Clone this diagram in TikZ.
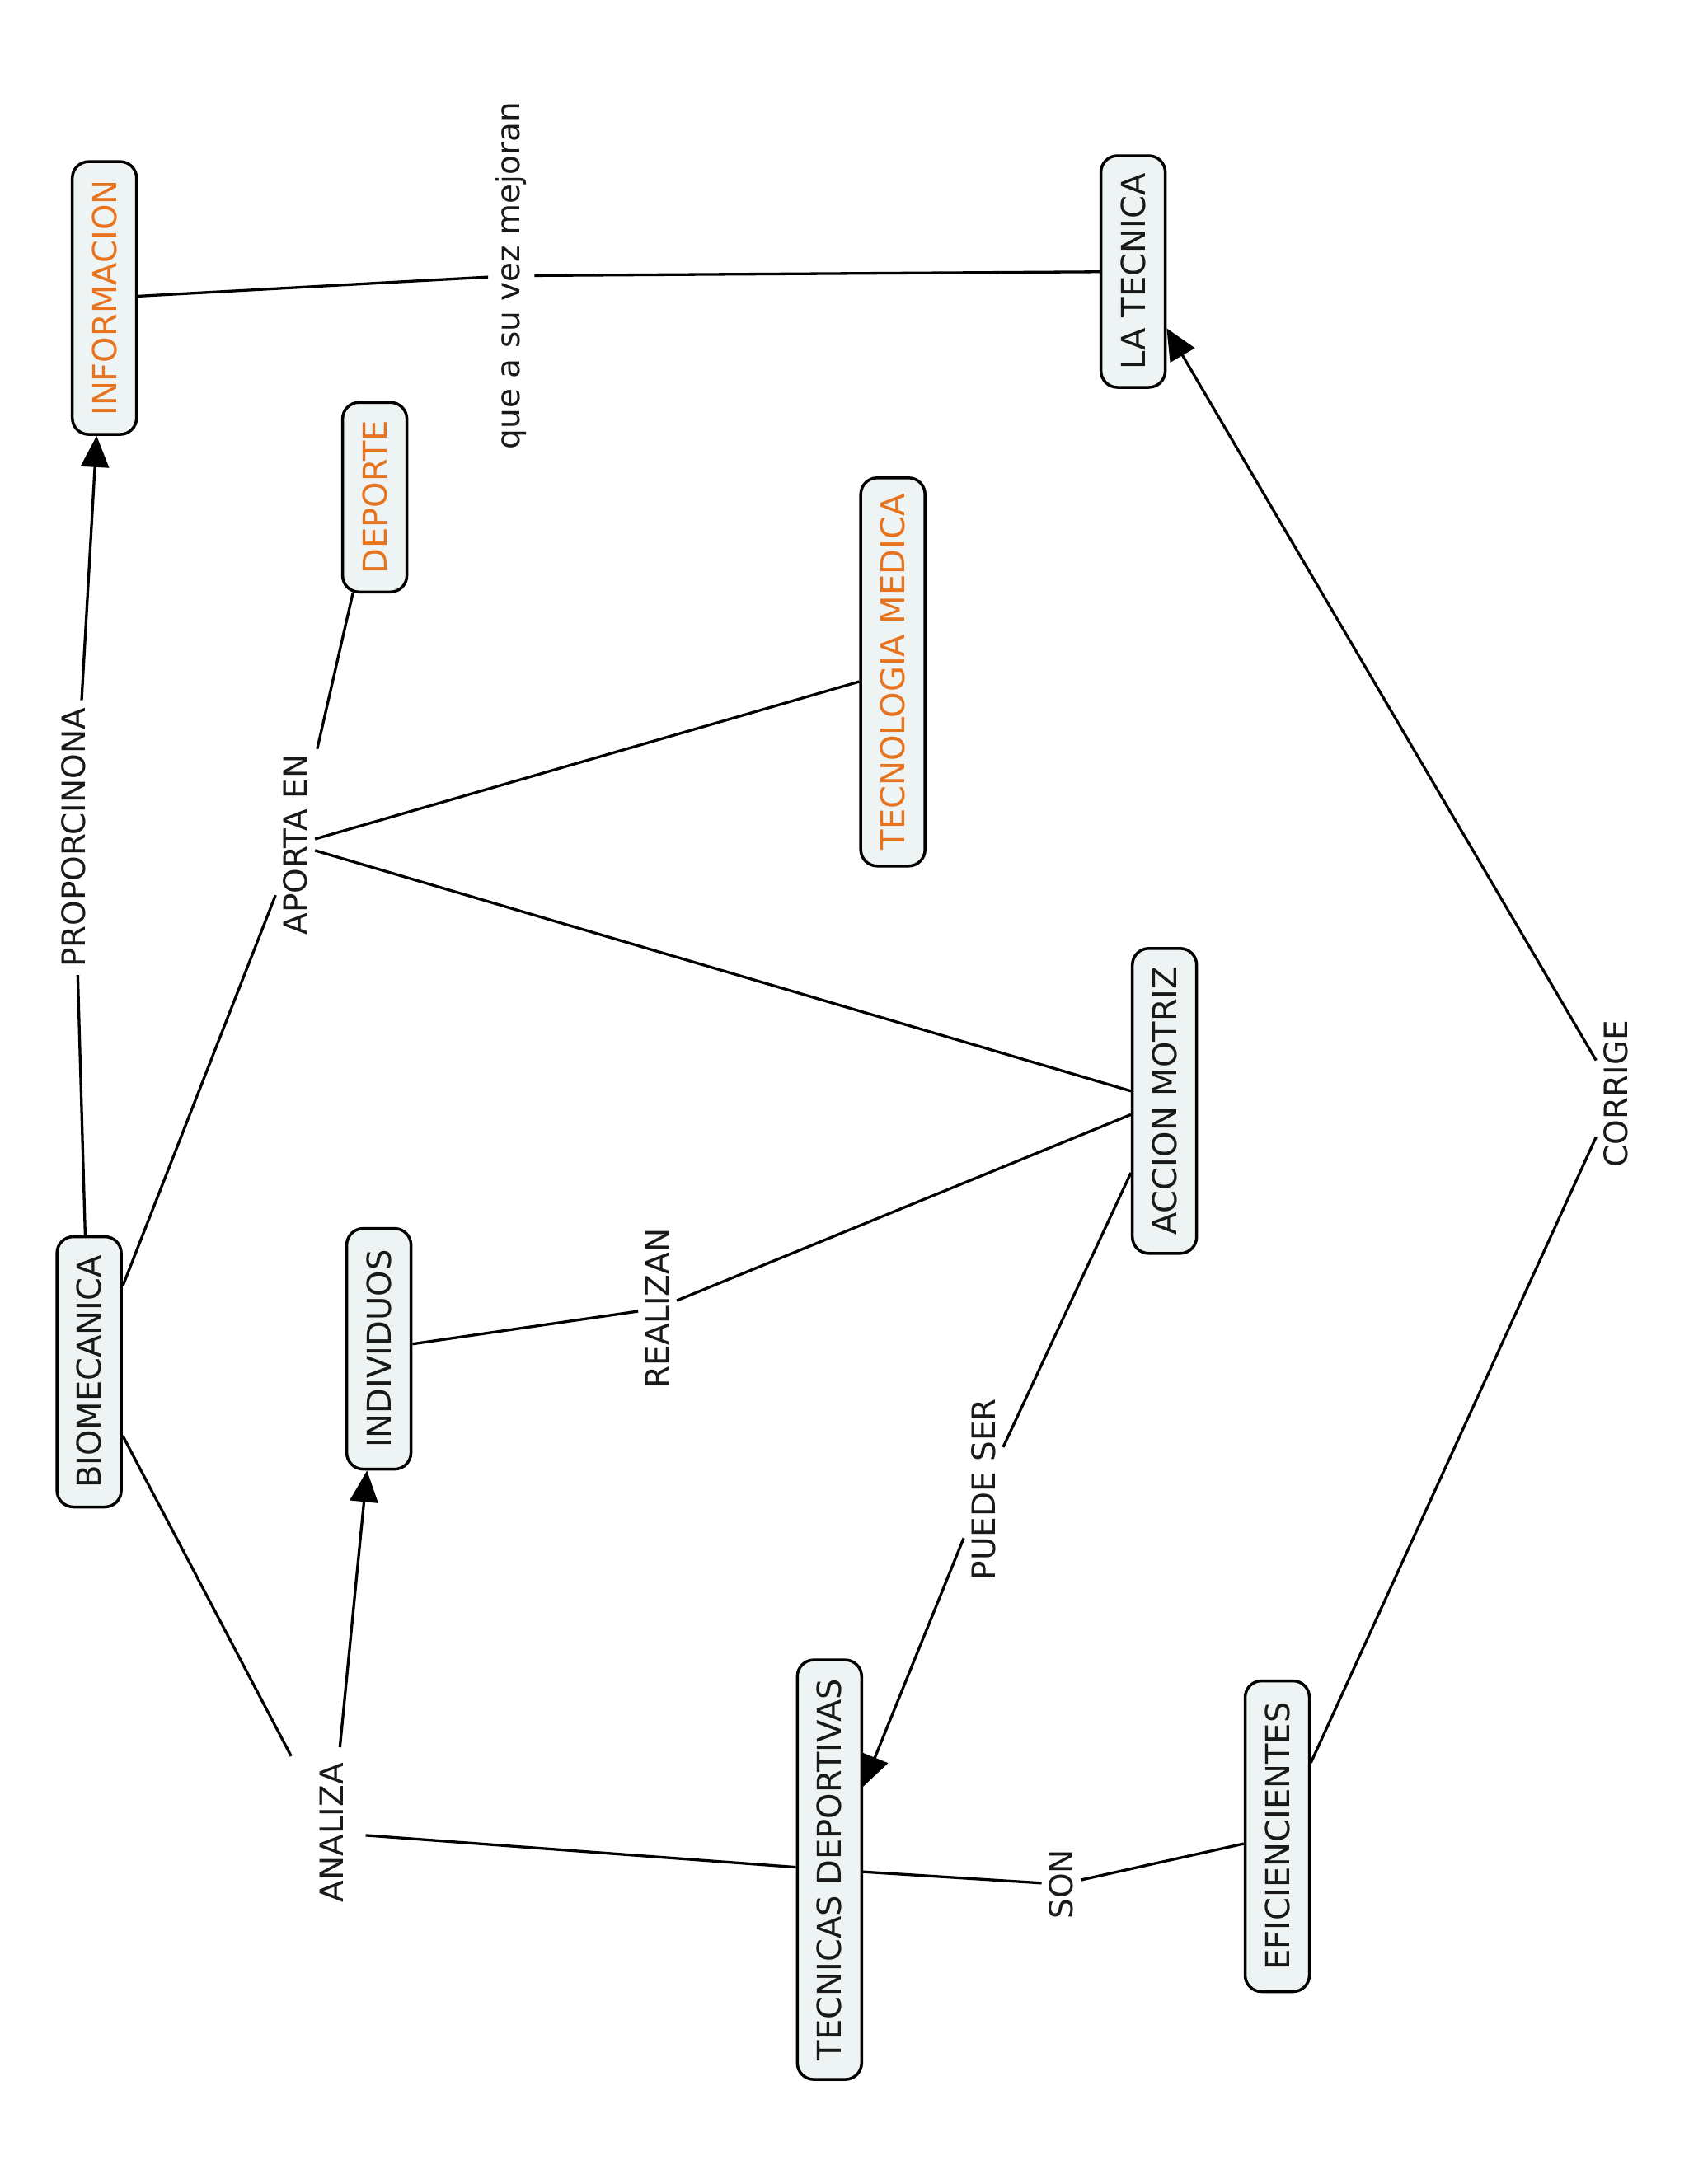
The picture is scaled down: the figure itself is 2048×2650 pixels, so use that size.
\documentclass[tikz,border=0pt]{standalone}
\usepackage{fontspec}
\setmainfont{DejaVu Sans}
\usetikzlibrary{arrows.meta}
\definecolor{boxfill}{HTML}{EEF3F4}
\definecolor{orangetxt}{HTML}{E8731F}
\tikzset{
  concept/.style={draw=black, line width=3.5pt, rounded corners=20pt, fill=boxfill,
    rotate=90, minimum height=78pt, inner sep=0pt,
    font=\fontsize{40}{48}\selectfont, text=black!90},
  hot/.style={text=orangetxt},
  link/.style={rotate=90, inner xsep=9pt, inner ysep=9pt,
    font=\fontsize{39}{47}\selectfont, text=black!90},
  conn/.style={line width=3.3pt, draw=black},
  arr/.style={conn, -{Triangle[length=38pt, width=34pt]}}
}
\begin{document}
\begin{tikzpicture}[x=1pt, y=-1pt]
\useasboundingbox (0,0) rectangle (2048,2650);
\fill[white] (0,0) rectangle (2048,2650);
% concepts
\node[concept, hot, minimum width=331pt] (inf) at (126.7,361.6) {INFORMACION};
\node[concept, hot, minimum width=230pt] (dep) at (454.6,603.3) {DEPORTE};
\node[concept, hot, minimum width=471pt] (tec) at (1083.2,815.3) {TECNOLOGIA MEDICA};
\node[concept, minimum width=281pt] (lat) at (1374.6,329.5) {LA TECNICA};
\node[concept, minimum width=370pt] (acc) at (1412.7,1335.8) {ACCION MOTRIZ};
\node[concept, minimum width=328pt] (bio) at (108.1,1664.5) {BIOMECANICA};
\node[concept, minimum width=292pt] (ind) at (459.6,1636.6) {INDIVIDUOS};
\node[concept, minimum width=509pt] (tdp) at (1006.3,2268.6) {TECNICAS DEPORTIVAS};
\node[concept, minimum width=377pt] (efi) at (1549.5,2228) {EFICIENCIENTES};
% linking phrases
\node[link] (qsv) at (620.2,334.6) {que a su vez mejoran};
\node[link] (pro) at (89.6,1016.4) {PROPORCINONA};
\node[link] (apo) at (358.2,1024.9) {APORTA EN};
\node[link] (cor) at (1960.2,1327.3) {CORRIGE};
\node[link] (rea) at (797.6,1587.6) {REALIZAN};
\node[link] (pue) at (1193,1807.2) {PUEDE SER};
\node[link] (ana) at (402.2,2223.8) {ANALIZA};
\node[link] (son) at (1287.6,2286.3) {SON};
% connectors
\draw[conn] (inf) -- (qsv);
\draw[conn] (qsv) -- (lat);
\draw[conn] (bio) -- (pro);
\draw[arr] (pro) -- (inf);
\draw[conn] (bio) -- (apo);
\draw[conn, shorten <=12pt] (apo) -- (dep);
\draw[conn] (apo) -- (tec);
\draw[conn] (apo) -- (acc);
\draw[arr] (cor) -- (lat);
\draw[conn] (efi) -- (cor);
\draw[conn] (acc) -- (rea);
\draw[conn] (rea) -- (ind);
\draw[conn] (acc) -- (pue);
\draw[arr] (pue) -- (tdp);
\draw[conn, shorten >=55pt] (bio) -- (ana);
\draw[arr, shorten <=10pt] (ana) -- (ind);
\draw[conn, shorten <=18pt] (ana) -- (tdp);
\draw[conn] (tdp) -- (son);
\draw[conn] (son) -- (efi);
\end{tikzpicture}
\end{document}
